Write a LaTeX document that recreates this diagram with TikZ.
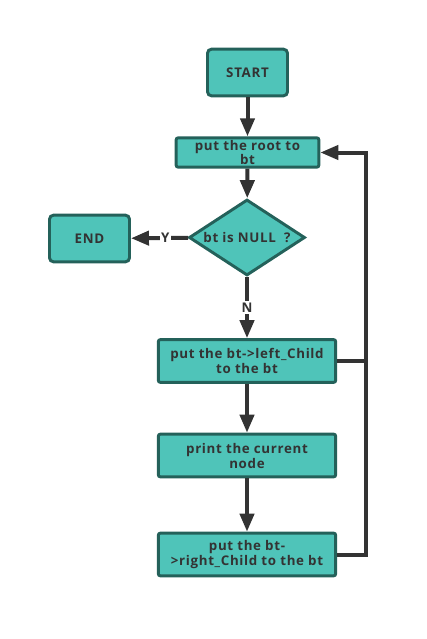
\documentclass[tikz,border=0pt]{standalone}
\usepackage{fontspec}
\setmainfont{Open Sans}[LetterSpace=5]
\usetikzlibrary{shapes.geometric,arrows.meta}
\definecolor{boxfill}{HTML}{4FC4B9}
\definecolor{boxline}{HTML}{24615A}
\definecolor{ink}{HTML}{333333}
\begin{document}
\begin{tikzpicture}[x=0.75pt,y=-0.75pt,
  every node/.style={font=\bfseries\fontsize{10}{11.25}\selectfont, text=ink, align=center},
  box/.style={rectangle, rounded corners=3pt, draw=boxline, fill=boxfill, line width=2.2pt, inner sep=0pt},
  test/.style={diamond, aspect=1.5, draw=boxline, fill=boxfill, line width=2.2pt, inner sep=0pt},
  arr/.style={draw=ink, line width=3pt, -{Triangle[length=13.5pt,width=10.5pt]}}]
\useasboundingbox (0,0) rectangle (427,639);

\node[box, minimum width=60pt, minimum height=35pt] (start) at (247.5,72.5) {START};
\node[box, rounded corners=1.5pt, minimum width=107pt, minimum height=22pt] (root) at (247.5,152.5) {put the root to\\[-1pt]bt};
\node[test, minimum width=87pt, minimum height=57pt] (null) at (247,237.5) {bt is NULL\ \ ?};
\node[box, minimum width=60pt, minimum height=35pt] (stop) at (89.5,238.5) {END};
\node[box, rounded corners=1.5pt, minimum width=133pt, minimum height=32pt] (left) at (247,361) {put the bt->left\_Child\\to the bt};
\node[box, rounded corners=1.5pt, minimum width=133pt, minimum height=32pt] (print) at (247,455.5) {print the current\\node};
\node[box, rounded corners=1.5pt, minimum width=133pt, minimum height=32pt] (right) at (247,554.5) {put the bt-\\>right\_Child to the bt};
\coordinate (back) at (366,361);

\draw[arr] (start) -- (root);
\draw[arr] (root) -- (null);
\draw[arr] (null) -- node[pos=0.4, fill=white, inner sep=1pt] {Y} (stop);
\draw[arr] (null) -- node[fill=white, inner sep=1pt] {N} (left);
\draw[arr] (left) -- (print);
\draw[arr] (print) -- (right);
\draw[arr] (right.east) -| (back) |- (root.east);
\draw[draw=ink, line width=3pt] (left.east) -- (back);
\end{tikzpicture}
\end{document}
